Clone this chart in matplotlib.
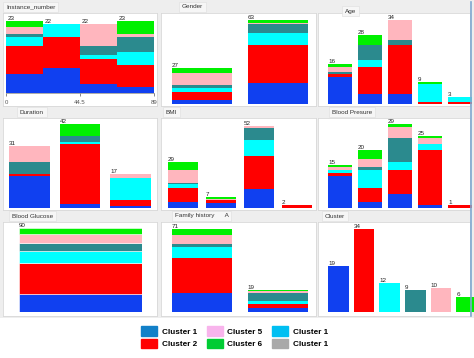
import numpy as np
import matplotlib.pyplot as plt
import matplotlib.patches as mpatches

plt.rcParams['font.family'] = ['Liberation Sans', 'DejaVu Sans']

# stacking order of the clusters inside every bar
bar_colors = ['#1040F0', '#FF0000', '#00FFFF', '#2B8A8E', '#FFB6BE', '#00F000']

# counts per bar, one value per cluster (blue, red, cyan, teal, pink, green)
instance = [[6, 9, 3, 1, 2, 2], [8, 10, 4, 0, 0, 0], [3, 8, 1, 3, 7, 0], [2, 7, 4, 5, 1, 4]]
gender = [[3, 6, 3, 2, 9, 4], [16, 28, 9, 7, 1, 2]]
age = [[11, 1, 0, 1, 2, 1], [4, 11, 3, 6, 0, 4], [4, 20, 0, 2, 8, 0], [0, 1, 7, 0, 0, 1], [0, 1, 2, 0, 0, 0]]
duration = [[16, 1, 0, 6, 8, 0], [2, 30, 1, 3, 0, 6], [1, 3, 11, 0, 2, 0]]
bmi = [[4, 9, 2, 1, 8, 5], [3, 2, 0, 0, 1, 1], [12, 21, 10, 8, 1, 0], [0, 2, 0, 0, 0, 0]]
blood_pressure = [[11, 1, 1, 0, 1, 1], [2, 5, 6, 1, 3, 3], [5, 8, 3, 8, 4, 1], [1, 19, 2, 0, 2, 1], [0, 1, 0, 0, 0, 0]]
glucose = [[19, 34, 12, 9, 10, 6]]
family = [[16, 30, 10, 2, 8, 5], [3, 4, 2, 7, 2, 1]]
cluster_sizes = [19, 34, 12, 9, 10, 6]

instance_edges = [0, 22.25, 44.5, 66.75, 89]
instance_ticks = [0, 44.5, 89]
instance_ticklabels = ['0', '44.5', '89']

legend_labels = ['Cluster 1', 'Cluster 2', 'Cluster 5', 'Cluster 6', 'Cluster 1', 'Cluster 1']
legend_colors = ['#1280C8', '#FF0000', '#F8B4EC', '#00CC33', '#00BFF2', '#A9A9A9']

W, H = 474, 358


def rect(x0, y0, x1, y1):
    return [x0 / W, 1 - y1 / H, (x1 - x0) / W, (y1 - y0) / H]


fig = plt.figure(figsize=(W / 100, H / 100), dpi=100, facecolor='white')

# grey window background of the screenshot
fig.patches.append(mpatches.Rectangle((0, 1 - 318 / H), 1, 318 / H, transform=fig.transFigure,
                                      facecolor='#EEEEEE', edgecolor='none', zorder=-5))

# white panel areas
cols = [(3, 157), (161, 316), (318, 470)]
rows = [(13, 106), (118, 210), (222, 316)]
for r in rows:
    for c in cols:
        fa = fig.add_axes(rect(c[0], r[0], c[1], r[1]))
        fa.set_facecolor('white')
        fa.set_xticks([])
        fa.set_yticks([])
        for s in fa.spines.values():
            s.set_color('#D8D8D8')
            s.set_linewidth(0.6)

# right edge line
fig.add_artist(plt.Line2D([471 / W, 471 / W], [1 - 316 / H, 1 - 2 / H], transform=fig.transFigure,
                          color='#7FA8D0', linewidth=1.2))

titles = [('Instance_number', 6, 7), ('Gender', 182, 7), ('Age', 345, 11),
          ('Duration', 20, 112), ('BMI', 166, 112), ('Blood Presure', 332, 112),
          ('Blood Glucose', 12, 216), ('Family history      A', 175, 216), ('Cluster', 325, 216)]
for t, x, y in titles:
    fig.text(x / W, 1 - y / H, t, fontsize=4.6, color='#333333', va='center', ha='left',
             bbox=dict(boxstyle='square,pad=0.4', facecolor='#F6F6F6', edgecolor='#DDDDDD',
                       linewidth=0.4))


def stacked(box, data, width=0.8, edge='none'):
    x0, x1, ytop, ybot = box
    ax = fig.add_axes(rect(x0, ytop, x1, ybot))
    ax.patch.set_alpha(0)
    data = np.array(data)
    n = len(data)
    xs = np.arange(n)
    bottom = np.zeros(n)
    for k in range(data.shape[1]):
        ax.bar(xs, data[:, k], width=width, bottom=bottom, color=bar_colors[k],
               edgecolor=edge, linewidth=0.4)
        bottom += data[:, k]
    for i in range(n):
        ax.text(xs[i] - width / 2, bottom[i], str(int(bottom[i])), fontsize=4.5,
                color='#222222', ha='left', va='bottom')
    ax.set_xlim(-width / 2, n - 1 + width / 2)
    ax.set_ylim(0, bottom.max())
    ax.axis('off')
    return ax


# Instance_number histogram
ax = fig.add_axes(rect(6, 21, 154, 93))
ax.patch.set_alpha(0)
inst = np.array(instance)
lefts = np.array(instance_edges[:-1])
widths = np.diff(instance_edges)
bottom = np.zeros(len(inst))
for k in range(inst.shape[1]):
    ax.bar(lefts, inst[:, k], width=widths, bottom=bottom, align='edge', color=bar_colors[k])
    bottom += inst[:, k]
for i in range(len(inst)):
    ax.text(lefts[i] + 0.8, bottom[i], str(int(bottom[i])), fontsize=4.5, color='#222222',
            ha='left', va='bottom')
ax.set_xlim(0, 89)
ax.set_ylim(0, bottom.max())
ax.set_xticks(instance_ticks)
ax.set_xticklabels(instance_ticklabels, fontsize=4.3, color='#333333')
ax.tick_params(axis='x', length=2, width=0.5, pad=3, colors='#555555')
ax.set_yticks([])
for s in ['top', 'left', 'right']:
    ax.spines[s].set_visible(False)
ax.spines['bottom'].set_color('#888888')
ax.spines['bottom'].set_linewidth(0.5)

stacked((172, 308, 20, 104), gender)
stacked((328, 472, 20, 104), age)
stacked((9, 151, 124, 208), duration)
stacked((168, 312, 126, 208), bmi)
stacked((328, 472, 124, 208), blood_pressure)
stacked((19, 142, 228, 312), glucose, width=1.0, edge='white')
stacked((172, 308, 229, 312), family)

# Cluster sizes
ax = fig.add_axes(rect(328, 229, 477, 312))
ax.patch.set_alpha(0)
xs = np.arange(len(cluster_sizes))
ax.bar(xs, cluster_sizes, width=0.8, color=bar_colors)
for i, v in enumerate(cluster_sizes):
    ax.text(xs[i] - 0.4, v, str(v), fontsize=4.5, color='#222222', ha='left', va='bottom')
ax.set_xlim(-0.4, len(cluster_sizes) - 0.6)
ax.set_ylim(0, max(cluster_sizes))
ax.axis('off')

handles = [mpatches.Patch(color=c, label=l) for c, l in zip(legend_colors, legend_labels)]
fig.legend(handles=handles, ncol=3, loc='upper left', bbox_to_anchor=(141 / W, 1 - 326 / H),
           frameon=False, borderpad=0, borderaxespad=0, handlelength=1.95, handleheight=1.45,
           handletextpad=0.6, columnspacing=1.15, labelspacing=0.37,
           prop={'family': 'Liberation Sans', 'weight': 'bold', 'size': 5.9})

fig.savefig('out.png', dpi=100, facecolor='white')
